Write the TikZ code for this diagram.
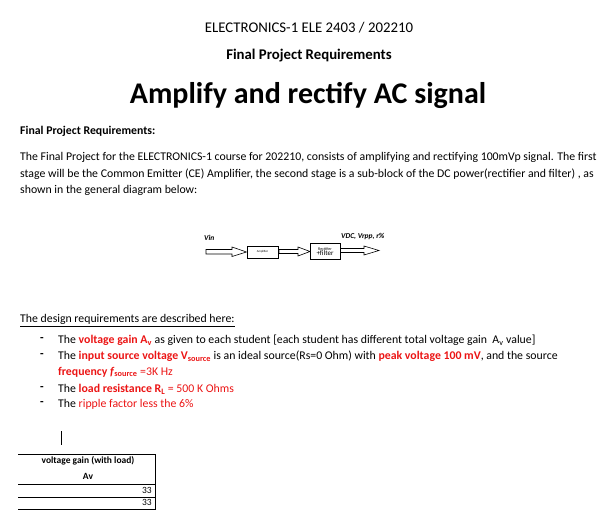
\documentclass[tikz,border=0pt]{standalone}
\usepackage{fontspec}
\usetikzlibrary{calc}
\setmainfont{Carlito}
\definecolor{req}{RGB}{235,20,20}
\begin{document}
\begin{tikzpicture}[x=1pt,y=-1pt,
  txt/.style={anchor=west,inner sep=0pt,font=\fontsize{11.8}{13}\selectfont},
  blk/.style={draw,inner sep=0pt,thick},
  hollow/.style={draw,fill=white,line width=0.6pt}]
\useasboundingbox (0,0) rectangle (610,513);
\node[inner sep=0pt,font=\fontsize{14.8}{16}\selectfont] (h1) at (309,28) {ELECTRONICS-1 ELE 2403 / 202210};
\node[inner sep=0pt,font=\fontsize{14.8}{16}\selectfont\bfseries] (h2) at (309,56) {Final Project Requirements};
\node[inner sep=0pt,font=\fontsize{30}{34}\selectfont\bfseries] (h3) at (308,95) {Amplify and rectify AC signal};
\node[txt,font=\fontsize{11.8}{13}\selectfont\bfseries] (fp) at (20,131) {Final Project Requirements:};
\node[txt] (p1) at (20,157) {The Final Project for the ELECTRONICS-1 course for 202210, consists of amplifying and rectifying 100mVp signal. The first};
\node[txt] (p2) at (20,174) {stage will be the Common Emitter (CE) Amplifier, the second stage is a sub-block of the DC power(rectifier and filter) , as};
\node[txt] (p3) at (20,190) {shown in the general diagram below:};
% diagram
\node[txt,font=\fontsize{7.5}{8}\selectfont\bfseries\itshape] (vin) at (204,238) {Vin};
\node[txt,font=\fontsize{7.5}{8}\selectfont\bfseries\itshape] (vdc) at (341,237) {VDC, Vrpp, r\%};
\node[blk,minimum width=31,minimum height=12,font=\fontsize{3}{3}\selectfont] (amp) at (262.5,252) {Amplifier};
\node[blk,minimum width=30,minimum height=16,align=center,font=\fontsize{4}{4}\selectfont] (rect) at (325,251.5) {Rectifier\\[-1pt]{\fontsize{7}{7}\selectfont +filter}};
\draw[hollow] (206,249.5) -- (232,249.5) -- (232,247) -- (246.5,252) -- (232,256.5) -- (232,254) -- (206,254) -- cycle;
\draw[hollow] (279,249.5) -- (298,249.5) -- (298,247) -- (310,251.5) -- (298,256) -- (298,253.5) -- (279,253.5) -- cycle;
\draw[hollow] (340.5,248.5) -- (364,248.5) -- (364,246) -- (379,250.5) -- (364,255) -- (364,252.5) -- (340.5,252.5) -- cycle;
\node[txt] (dr) at (20,319) {The design requirements are described here:};
\draw[line width=0.5pt] ($(dr.south west)+(0,1.5)$) -- ($(dr.south east)+(0,1.5)$);
% bullets
\foreach \yy/\nm in {340/a,356/b,389/d,404/e} \node[txt,font=\fontsize{11.8}{13}\selectfont\bfseries] (d\nm) at (40,\yy) {-};
\node[txt] (b1) at (58,340) {The \textcolor{req}{\bfseries voltage gain A\textsubscript{v}} as given to each student [each student has different total voltage gain\ \ A\textsubscript{v} value]};
\node[txt] (b2) at (58,356) {The \textcolor{req}{\bfseries input source voltage V\textsubscript{source}} is an ideal source(Rs=0 Ohm) with \textcolor{req}{\bfseries peak voltage 100 mV}, and the source};
\node[txt] (b2b) at (58,372) {\textcolor{req}{\bfseries frequency \textit{f}\textsubscript{source}} \textcolor{req}{=3K Hz}};
\node[txt] (b3) at (58,389) {The \textcolor{req}{\bfseries load resistance R\textsubscript{L}} \textcolor{req}{= 500 K Ohms}};
\node[txt] (b4) at (58,404) {The \textcolor{req}{ripple factor less the 6\%}};
% cursor
\draw[line width=0.8pt] (61,431) -- (61,445);
% table
\draw[line width=0.6pt] (18,454) -- (155,454);
\draw[line width=0.6pt] (18,484.5) -- (155,484.5);
\draw[line width=0.6pt] (18,497) -- (155,497);
\draw[line width=0.6pt] (18,509.5) -- (155,509.5);
\draw[line width=0.6pt] (155,454) -- (155,509.5);
\node[inner sep=0pt,font=\fontsize{9.5}{12}\selectfont\bfseries] (t1) at (88,461) {voltage gain (with load)};
\node[inner sep=0pt,font=\fontsize{9.5}{12}\selectfont\bfseries] (t2) at (88,476) {Av};
\node[inner sep=0pt,anchor=east,font=\fontsize{9.5}{12}\selectfont] (t3) at (152,490) {33};
\node[inner sep=0pt,anchor=east,font=\fontsize{9.5}{12}\selectfont] (t4) at (152,502.5) {33};
\end{tikzpicture}
\end{document}
